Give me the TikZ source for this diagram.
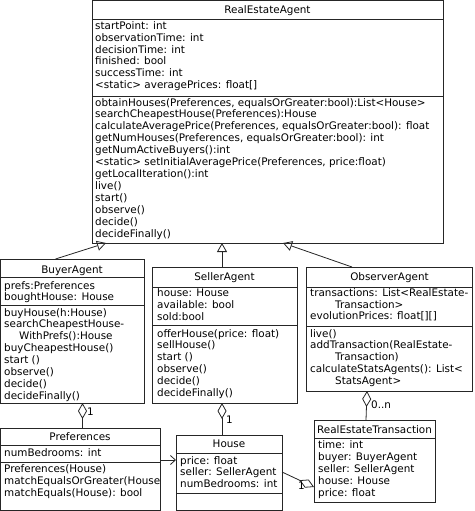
\documentclass[tikz,border=0pt]{standalone}
\usepackage{fontspec}
\setmainfont{DejaVu Sans}
\usetikzlibrary{arrows.meta}
\begin{document}
\begin{tikzpicture}[x=1pt,y=-1pt,
  box/.style={draw=black!85, line width=0.8pt, inner sep=0, outer sep=0, anchor=north west},
  sep/.style={draw=black!85, line width=0.8pt},
  txt/.style={anchor=base west, inner sep=0, font=\fontsize{10.4}{11.9}\selectfont, text=black},
  ttl/.style={anchor=base, inner sep=0, font=\fontsize{10.4}{11.9}\selectfont, text=black},
  lbl/.style={anchor=base west, inner sep=0, font=\fontsize{10.4}{11.9}\selectfont, text=black},
  gen/.style={draw=black!85, line width=0.8pt, -{Triangle[open,length=9pt,width=10pt]}},
  agg/.style={draw=black!85, line width=0.8pt, {Diamond[open,length=16pt,width=9pt]}-},
  nav/.style={draw=black!85, line width=0.8pt, -{Straight Barb[length=5pt,width=9pt]}}
]
\useasboundingbox (0,0) rectangle (474,511);

% ---------- RealEstateAgent ----------
\node[box, minimum width=351pt, minimum height=242.5pt] (rea) at (92,0.5) {};
\draw[sep] (92,19) -- (443,19);
\draw[sep] (92,96) -- (443,96);
\node[ttl] (rea-t) at (267.5,13.5) {RealEstateAgent};
\foreach \t [count=\i from 0] in {{startPoint: int},{observationTime: int},{decisionTime: int},{finished: bool},{successTime: int},{<static> averagePrices: float[]}}
  \node[txt] (rea-a\i) at (95,{29.5+11.8*\i}) {\t};
\foreach \t [count=\i from 0] in {{obtainHouses(Preferences, equalsOrGreater:bool):List<House>},{searchCheapestHouse(Preferences):House},{calculateAveragePrice(Preferences, equalsOrGreater:bool): float},{getNumHouses(Preferences, equalsOrGreater:bool): int},{getNumActiveBuyers():int},{<static> setInitialAveragePrice(Preferences, price:float)},{getLocalIteration():int},{live()},{start()},{observe()},{decide()},{decideFinally()}}
  \node[txt] (rea-m\i) at (95,{106+11.93*\i}) {\t};

% ---------- BuyerAgent ----------
\node[box, minimum width=143.5pt, minimum height=144pt] (buyer) at (0.5,259) {};
\draw[sep] (0.5,277) -- (144,277);
\draw[sep] (0.5,305) -- (144,305);
\node[ttl] (buyer-t) at (72,273) {BuyerAgent};
\node[txt] (buyer-a0) at (4,289) {prefs:Preferences};
\node[txt] (buyer-a1) at (4,300.7) {boughtHouse: House};
\foreach \t/\xx [count=\i from 0] in {{buyHouse(h:House)}/4,{searchCheapestHouse-}/4,{WithPrefs():House}/19,{buyCheapestHouse()}/4,{start ()}/4,{observe()}/4,{decide()}/4,{decideFinally()}/4}
  \node[txt] (buyer-m\i) at (\xx,{316+11.9*\i}) {\t};

% ---------- SellerAgent ----------
\node[box, minimum width=145pt, minimum height=136pt] (seller) at (152,267) {};
\draw[sep] (152,287) -- (297,287);
\draw[sep] (152,325) -- (297,325);
\node[ttl] (seller-t) at (224.5,280.5) {SellerAgent};
\foreach \t [count=\i from 0] in {{house: House},{available: bool},{sold:bool}}
  \node[txt] (seller-a\i) at (157,{296.7+11.9*\i}) {\t};
\foreach \t [count=\i from 0] in {{offerHouse(price: float)},{sellHouse()},{start ()},{observe()},{decide()},{decideFinally()}}
  \node[txt] (seller-m\i) at (157,{337+11.9*\i}) {\t};

% ---------- ObserverAgent ----------
\node[box, minimum width=166pt, minimum height=124pt] (obs) at (306.5,267) {};
\draw[sep] (306.5,287) -- (472.5,287);
\draw[sep] (306.5,326) -- (472.5,326);
\node[ttl] (obs-t) at (389.5,280.5) {ObserverAgent};
\foreach \t/\xx [count=\i from 0] in {{transactions: List<RealEstate-}/310,{Transaction>}/335,{evolutionPrices: float[][]}/310}
  \node[txt] (obs-a\i) at (\xx,{296.7+11.5*\i}) {\t};
\foreach \t/\xx [count=\i from 0] in {{live()}/310,{addTransaction(RealEstate-}/310,{Transaction)}/335,{calculateStatsAgents(): List<}/310,{StatsAgent>}/335}
  \node[txt] (obs-m\i) at (\xx,{337+11.75*\i}) {\t};

% ---------- Preferences ----------
\node[box, minimum width=159.5pt, minimum height=82pt] (prefs) at (0.5,428) {};
\draw[sep] (0.5,445) -- (160,445);
\draw[sep] (0.5,462) -- (160,462);
\node[ttl] (prefs-t) at (80,440) {Preferences};
\node[txt] (prefs-a0) at (4,456.7) {numBedrooms: int};
\begin{scope}
  \clip (0,462) rectangle (159.5,510);
  \foreach \t [count=\i from 0] in {{Preferences(House)},{matchEqualsOrGreater(House): bool},{matchEquals(House): bool}}
    \node[txt] (prefs-m\i) at (4,{472+12*\i}) {\t};
\end{scope}

% ---------- House ----------
\node[box, minimum width=106pt, minimum height=75pt] (house) at (176,435) {};
\draw[sep] (176,453) -- (282,453);
\draw[sep] (176,493) -- (282,493);
\node[ttl] (house-t) at (229,447) {House};
\foreach \t [count=\i from 0] in {{price: float},{seller: SellerAgent},{numBedrooms: int}}
  \node[txt] (house-a\i) at (180,{464+11.9*\i}) {\t};

% ---------- RealEstateTransaction ----------
\node[box, minimum width=121pt, minimum height=82pt] (ret) at (314,420) {};
\draw[sep] (314,438) -- (435,438);
\node[ttl] (ret-t) at (374.5,433) {RealEstateTransaction};
\foreach \t [count=\i from 0] in {{time: int},{buyer: BuyerAgent},{seller: SellerAgent},{house: House},{price: float}}
  \node[txt] (ret-a\i) at (318,{448+12.2*\i}) {\t};

% ---------- connectors ----------
\draw[gen] ([xshift=55pt]buyer.north west) -- ([xshift=14pt]rea.south west);
\draw[gen] ([xshift=70pt]seller.north west) -- ([xshift=130pt]rea.south west);
\draw[gen] ([xshift=45.5pt]obs.north west) -- ([xshift=191pt]rea.south west);

\draw[agg] ([xshift=82pt]buyer.south west) -- ([xshift=82pt]prefs.north west);
\node[lbl] (l1) at (87,415) {1};
\draw[agg] ([xshift=70pt]seller.south west) -- ([xshift=46pt]house.north west);
\node[lbl] (l2) at (226,423) {1};
\draw[agg] ([xshift=60.5pt]obs.south west) -- ([xshift=52pt]ret.north west);
\node[lbl] (l3) at (371,408) {0..n};
\draw[agg] ([yshift=-67pt]ret.north west) -- ([yshift=-37pt]house.north east);
\node[lbl] (l4) at (298,489) {1};

\draw[nav] ([yshift=-32pt]prefs.north east) -- ([yshift=-25pt]house.north west);
\end{tikzpicture}
\end{document}
